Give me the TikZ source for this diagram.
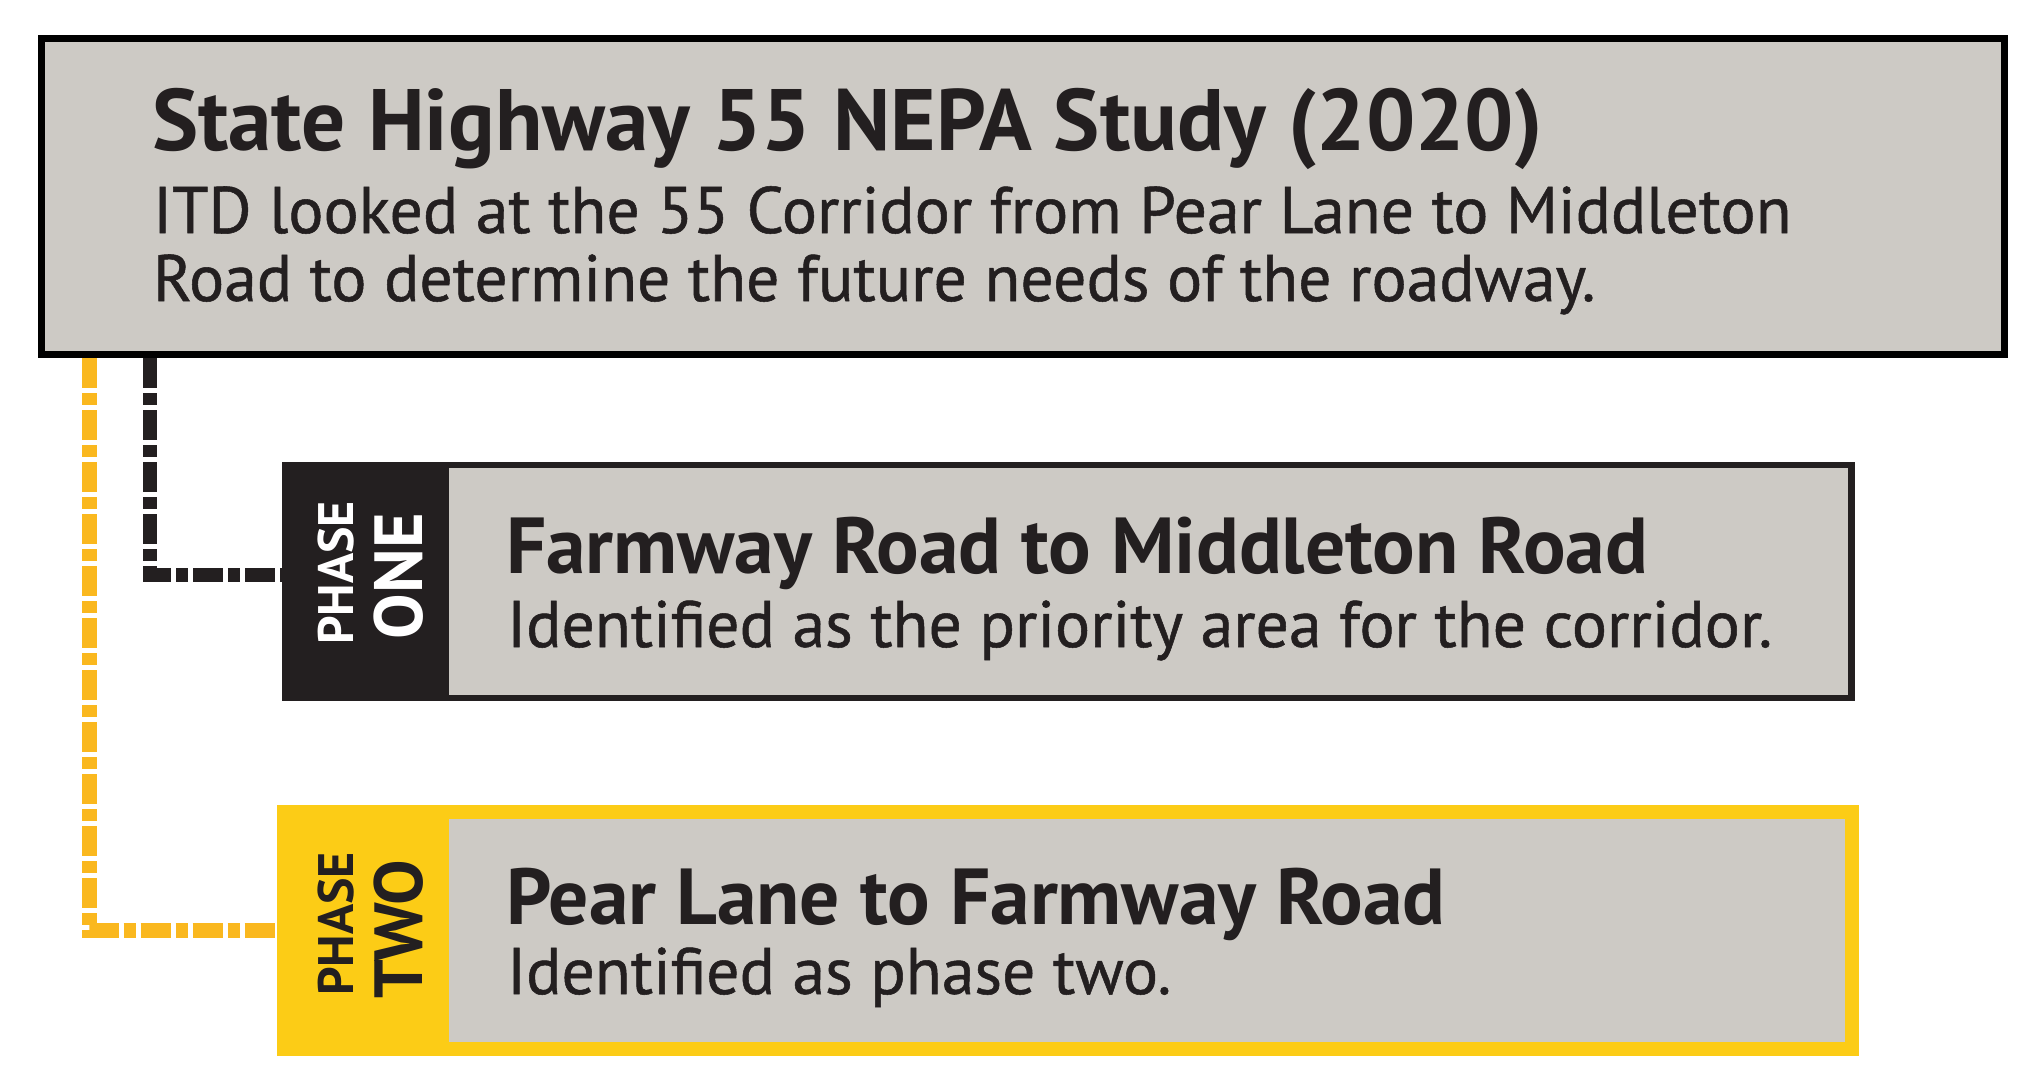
\documentclass[tikz,border=0pt]{standalone}
\usepackage{fontspec}
\setmainfont{PT Sans}
\newfontfamily\bodyfont[FakeBold=0.8]{PT Sans}
\usetikzlibrary{positioning}
\definecolor{panel}{HTML}{CDCAC5}
\definecolor{ink}{HTML}{231F20}
\definecolor{gold}{HTML}{FCCC16}
\definecolor{amber}{HTML}{FAB81F}
\begin{document}
\begin{tikzpicture}[inner sep=0pt, outer sep=0pt]
	\tikzstyle{panelbox} = [rectangle, fill=panel]
	\tikzstyle{tabtext} = [rotate=90, anchor=base, font=\bfseries]
	\tikzstyle{link} = [line width=0.14cm, dash pattern=on 0.30cm off 0.05cm on 0.12cm off 0.05cm]
	\useasboundingbox (0,0) rectangle (20.40,-10.91);
	\fill[white] (0,0) rectangle (20.40,-10.91);
	\node[panelbox, draw=black, line width=0.07cm, minimum width=19.63cm, minimum height=3.16cm](study) at (10.23,-1.965) {};
	\node[rectangle, fill=ink, minimum width=15.73cm, minimum height=2.39cm](one) at (10.685,-5.815) {};
	\node[panelbox, minimum width=13.99cm, minimum height=2.27cm, left=0.07cm of one.east](onebody) {};
	\node[rectangle, fill=gold, minimum width=15.82cm, minimum height=2.51cm](two) at (10.68,-9.305) {};
	\node[panelbox, minimum width=13.96cm, minimum height=2.23cm, left=0.14cm of two.east](twobody) {};
	\node[anchor=base west, text=ink, font=\fontsize{24.8}{28}\selectfont\bfseries](title) at (1.52,-1.50) {State Highway 55 NEPA Study (2020)};
	\node[anchor=base west, text=ink, font=\fontsize{18.7}{22}\selectfont\bodyfont](line1) at (1.53,-2.33) {ITD looked at the 55 Corridor from Pear Lane to Middleton};
	\node[anchor=base west, text=ink, font=\fontsize{18.7}{22}\selectfont\bodyfont](line2) at (1.53,-3.01) {Road to determine the future needs of the roadway.};
	\node[tabtext, text=white, font=\fontsize{14.2}{16}\selectfont\bfseries](phase1) at (3.53,-5.73) {PHASE};
	\node[tabtext, text=white, font=\fontsize{19.4}{22}\selectfont\bfseries](num1) at (4.22,-5.76) {ONE};
	\node[anchor=base west, text=ink, font=\fontsize{22.6}{26}\selectfont\bfseries](head1) at (5.06,-5.73) {Farmway Road to Middleton Road};
	\node[anchor=base west, text=ink, font=\fontsize{18.7}{22}\selectfont\bodyfont](note1) at (5.07,-6.47) {Identified as the priority area for the corridor.};
	\node[tabtext, text=ink, font=\fontsize{14.2}{16}\selectfont\bfseries](phase2) at (3.53,-9.24) {PHASE};
	\node[tabtext, text=ink, font=\fontsize{19.4}{22}\selectfont\bfseries](num2) at (4.22,-9.29) {TWO};
	\node[anchor=base west, text=ink, font=\fontsize{22.6}{26}\selectfont\bfseries](head2) at (5.06,-9.24) {Pear Lane to Farmway Road};
	\node[anchor=base west, text=ink, font=\fontsize{18.7}{22}\selectfont\bodyfont](note2) at (5.07,-9.94) {Identified as phase two.};
	\draw[link, ink] ([xshift=1.085cm, yshift=-0.035cm]study.south west) |- ([yshift=0.065cm]one.west);
	\draw[link, amber, line width=0.15cm] ([xshift=0.475cm, yshift=-0.035cm]study.south west) |- (two.west);
\end{tikzpicture}
\end{document}
